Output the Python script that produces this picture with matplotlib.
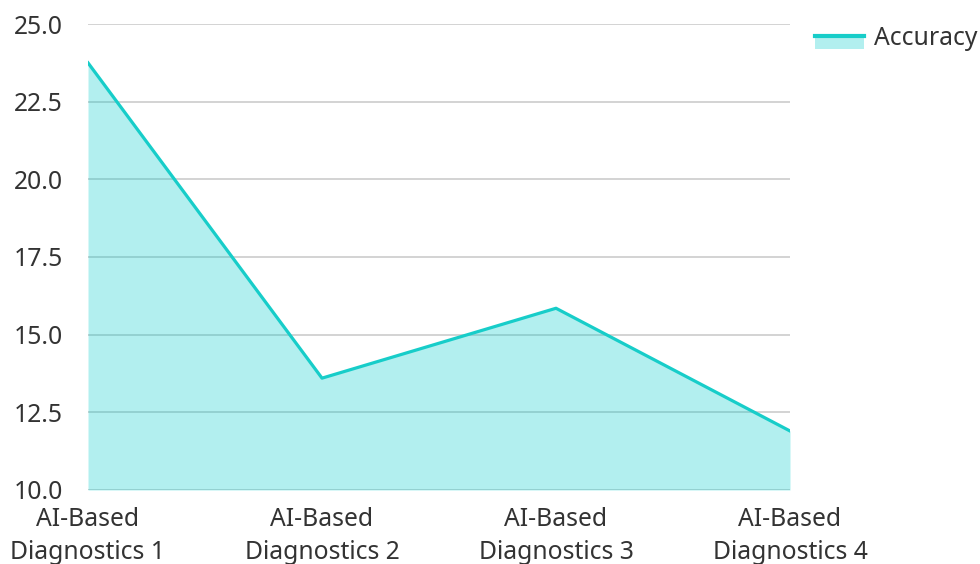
import matplotlib.pyplot as plt
from matplotlib.patches import Rectangle
from matplotlib.lines import Line2D
from matplotlib.legend_handler import HandlerBase

plt.rcParams['font.family'] = ['Noto Sans', 'DejaVu Sans']

categories = ['AI-Based\nDiagnostics 1', 'AI-Based\nDiagnostics 2',
              'AI-Based\nDiagnostics 3', 'AI-Based\nDiagnostics 4']
accuracy = [23.75, 13.6, 15.85, 11.9]
yticks = [10.0, 12.5, 15.0, 17.5, 20.0, 22.5, 25.0]

line_color = '#17cdc9'
fill_color = '#00cccc'


class AreaHandler(HandlerBase):
    # line along the top of a filled swatch
    def create_artists(self, legend, orig_handle, xdescent, ydescent,
                       width, height, fontsize, trans):
        cy = height / 2 - ydescent
        rect = Rectangle((-xdescent, cy - height * 0.75), width, height * 0.75,
                         facecolor=fill_color, alpha=0.3, lw=0, transform=trans)
        line = Line2D([-xdescent, -xdescent + width], [cy, cy],
                      color=line_color, lw=3, transform=trans)
        return [rect, line]


fig = plt.figure(figsize=(9.8, 5.64), dpi=100)
ax = fig.add_axes([88 / 980, 74 / 564, 702 / 980, 466 / 564])

x = range(len(categories))
ax.fill_between(x, 10, accuracy, color=fill_color, alpha=0.3, lw=0, zorder=2)
ax.plot(x, accuracy, color=line_color, lw=2.3, zorder=3)

ax.set_xlim(0, len(categories) - 1)
ax.set_ylim(10, 25)
ax.set_yticks(yticks)
ax.set_yticklabels(['{:.1f}'.format(t) for t in yticks])
ax.set_xticks(list(x))
ax.set_xticklabels(categories, linespacing=1.45)
ax.yaxis.grid(True, color='#c8c8c8', lw=1.1, zorder=1)
ax.set_axisbelow(True)
for s in ax.spines.values():
    s.set_visible(False)
ax.tick_params(axis='both', length=0, labelsize=17.8, colors='#333333')
ax.tick_params(axis='y', pad=18)
ax.tick_params(axis='x', pad=12)

handle = Line2D([], [], color=line_color)
fig.legend([handle], ['Accuracy'], handler_map={Line2D: AreaHandler()},
           loc='upper left', bbox_to_anchor=(805 / 980, 1 - 16 / 564),
           frameon=False, fontsize=17.8, handlelength=2.0, handletextpad=0.4,
           borderaxespad=0, labelcolor='#333333')

fig.savefig('out.png', dpi=100)
